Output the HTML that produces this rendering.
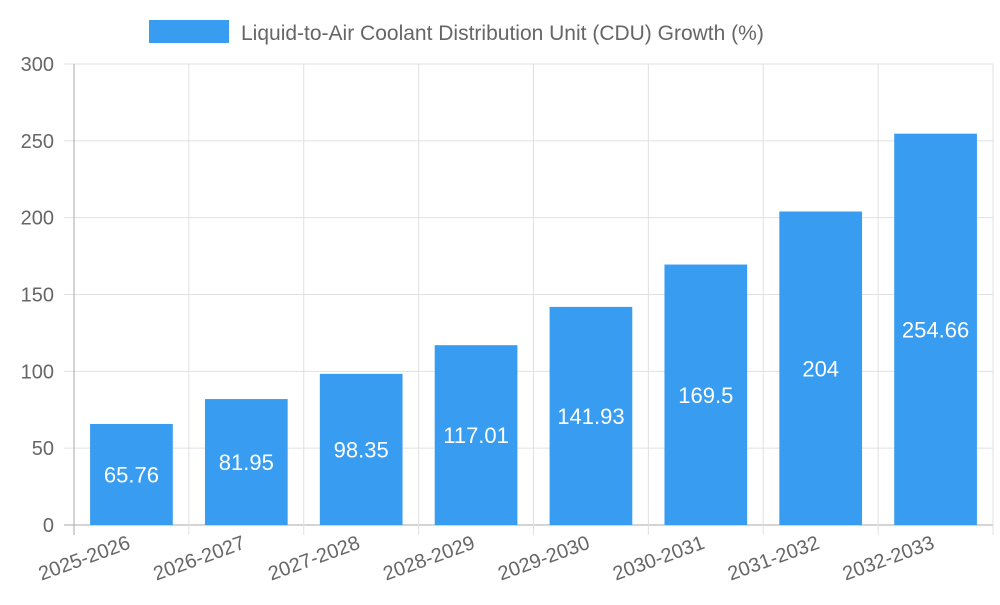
<!DOCTYPE html>
<html><head><meta charset="utf-8"><style>
body{margin:0;background:#fff;}
text{font-family:"Liberation Sans",sans-serif;}
</style></head><body>
<svg id="chart" width="1000" height="600" xmlns="http://www.w3.org/2000/svg">
<g>
<rect x="149" y="20" width="80" height="23" fill="#389cf0"/>
<text x="241" y="40" font-size="21" fill="#666">Liquid-to-Air Coolant Distribution Unit (CDU) Growth (%)</text>
</g>
<g id="grid"></g>
<g id="bars"></g>
<g id="axes"></g>
</svg>
<script>
const categories=["2025-2026","2026-2027","2027-2028","2028-2029","2029-2030","2030-2031","2031-2032","2032-2033"];
const values=[65.76,81.95,98.35,117.01,141.93,169.5,204,254.66];
const yTicks=[0,50,100,150,200,250,300];
const X0=74,X1=993,Y0=525,Y1=64,YMAX=300;
const NS="http://www.w3.org/2000/svg";
const bw=(X1-X0)/categories.length;
const yS=v=>Y0-(v/YMAX)*(Y0-Y1);
function mk(t,a,p){const e=document.createElementNS(NS,t);for(const k in a)e.setAttribute(k,a[k]);p.appendChild(e);return e;}
const grid=document.getElementById('grid'),bars=document.getElementById('bars'),axes=document.getElementById('axes');
yTicks.forEach(v=>{const y=yS(v);
 const l=mk('line',{x1:X0-10,x2:X1,y1:y,y2:y,stroke:v===0?'#aaa':'#e0e0e0','stroke-width':1},grid);
 
 
 const t=mk('text',{x:X0-20,y:y+7,'text-anchor':'end','font-size':20,fill:'#666'},axes);t.textContent=v;
 
 
});
for(let i=0;i<=categories.length;i++){const x=X0+i*bw;
 const l=mk('line',{x1:x,x2:x,y1:Y1,y2:Y0+10,stroke:i===0?'#aaa':'#e0e0e0','stroke-width':1},grid);
 
 
}
categories.forEach((c,i)=>{const cx=X0+(i+0.5)*bw,w=bw*0.72,y=yS(values[i]);
 const r=mk('rect',{x:cx-w/2,y:y,width:w,height:Y0-y,fill:'#389cf0'},bars);
 
 
 const t=mk('text',{x:cx,y:(y+Y0)/2+8,'text-anchor':'middle','font-size':22,fill:'#fff'},bars);t.textContent=values[i];
 
 
 const xl=mk('text',{x:cx,y:548,'text-anchor':'end','font-size':20,fill:'#666',transform:`rotate(-20 ${cx} 548)`},axes);xl.textContent=c;
 
 
});
</script>
</body></html>
